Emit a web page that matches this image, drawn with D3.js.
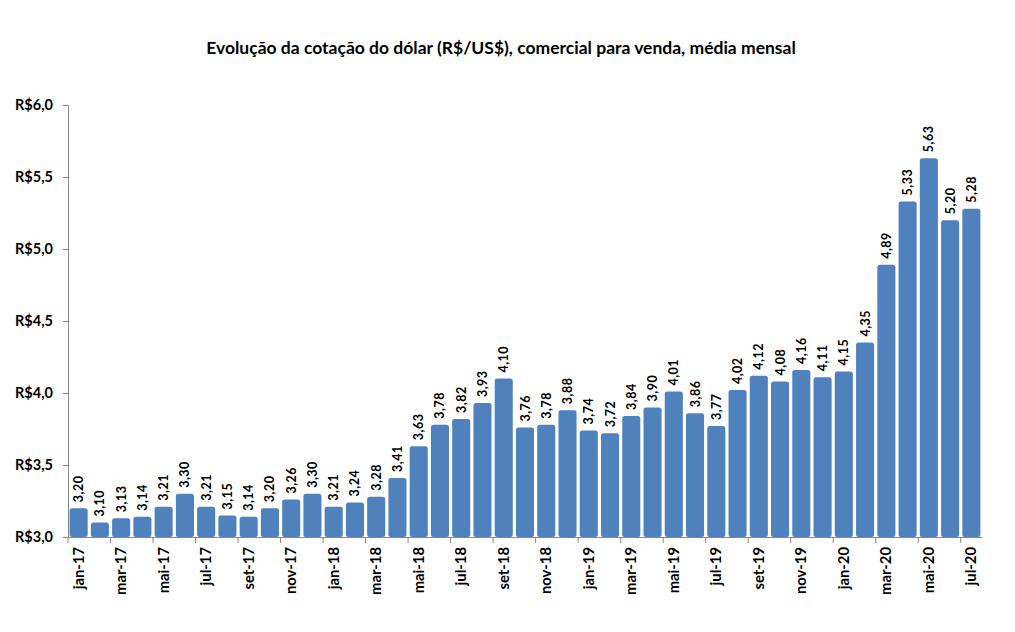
<!DOCTYPE html>
<html><head><meta charset="utf-8">
<script src="https://cdn.jsdelivr.net/npm/d3@7"></script>
<style>body{margin:0;background:#fff}svg{display:block}</style>
</head><body>
<svg id="c" width="1015" height="632"></svg>
<script>
const months = ["jan","fev","mar","abr","mai","jun","jul","ago","set","out","nov","dez"];
const years = ["17","18","19","20"];
const categories = [];
years.forEach(y => months.forEach(m => categories.push(m + "-" + y)));
categories.splice(43);
const values = [3.20,3.10,3.13,3.14,3.21,3.30,3.21,3.15,3.14,3.20,3.26,3.30,
  3.21,3.24,3.28,3.41,3.63,3.78,3.82,3.93,4.10,3.76,3.78,3.88,
  3.74,3.72,3.84,3.90,4.01,3.86,3.77,4.02,4.12,4.08,4.16,4.11,
  4.15,4.35,4.89,5.33,5.63,5.20,5.28];
const yTicks = [3.0,3.5,4.0,4.5,5.0,5.5,6.0];
const title = "Evolução da cotação do dólar (R$/US$), comercial para venda, média mensal";

const svg = d3.select("#c");
const m = {l:68, r:982, t:105, b:537};
const x = d3.scaleBand().domain(categories).range([m.l, m.r]).paddingInner(0.15).paddingOuter(0.075);
const y = d3.scaleLinear().domain([3,6]).range([m.b, m.t]);
const fmt = v => v.toFixed(2).replace(".", ",");
const fmtY = v => "R$" + v.toFixed(1).replace(".", ",");
const font = "Lato, 'Open Sans', sans-serif";

svg.append("text").attr("x", 501).attr("y", 54).attr("text-anchor","middle")
  .attr("font-family", font).attr("font-weight","bold").attr("font-size", 17.5).attr("fill","#000")
  .text(title);

// y axis
const ya = svg.append("g").attr("transform", `translate(${m.l},0)`)
  .call(d3.axisLeft(y).tickValues(yTicks).tickFormat(fmtY).tickSize(5).tickPadding(10));
ya.select(".domain").attr("stroke","#868686");
ya.selectAll(".tick line").attr("stroke","#868686");
ya.selectAll("text").attr("font-family", font).attr("font-weight","bold").attr("font-size",14.5).attr("fill","#000");

// bars
svg.append("g").selectAll("rect").data(values).join("rect")
  .attr("x", (d,i) => x(categories[i]))
  .attr("y", d => y(d))
  .attr("width", x.bandwidth())
  .attr("height", d => y(3) - y(d))
  .attr("rx", 2.5)
  .attr("fill", "#4F81BD");

// value labels
svg.append("g").selectAll("text").data(values).join("text")
  .attr("transform", (d,i) => `translate(${x(categories[i]) + x.bandwidth()/2 + 4.5},${y(d) - 6}) rotate(-90)`)
  .attr("font-family", font).attr("font-weight","bold").attr("font-size", 12.5).attr("letter-spacing", 0.5).attr("fill","#000")
  .text(fmt);

// x axis
const step = x.step();
svg.append("line").attr("x1", m.l).attr("x2", m.r).attr("y1", m.b+0.5).attr("y2", m.b+0.5).attr("stroke","#868686");
const tickIdx = d3.range(0, categories.length + 1, 2);
svg.append("g").selectAll("line").data(tickIdx).join("line")
  .attr("x1", i => m.l + i*step).attr("x2", i => m.l + i*step)
  .attr("y1", m.b).attr("y2", m.b + 6).attr("stroke","#868686");
const labIdx = d3.range(0, categories.length, 2);
svg.append("g").selectAll("text").data(labIdx).join("text")
  .attr("transform", i => `translate(${x(categories[i]) + x.bandwidth()/2 + 5},${m.b + 10}) rotate(-90)`)
  .attr("text-anchor","end")
  .attr("font-family", font).attr("font-weight","bold").attr("font-size", 14.8).attr("fill","#000")
  .text(i => categories[i]);
</script>
</body></html>
